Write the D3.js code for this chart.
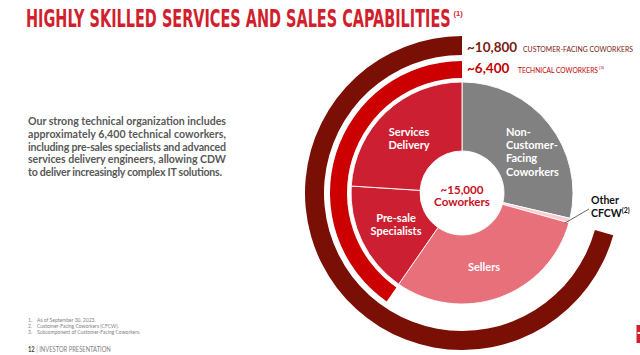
<!DOCTYPE html>
<html><head><meta charset="utf-8">
<script src="https://cdn.jsdelivr.net/npm/d3@7"></script>
<style>
html,body{margin:0;padding:0;background:#fff;}
svg{display:block;}
</style></head>
<body><svg id="c" width="640" height="355"></svg>
<script>
// ---- data ----
const segmentNames = ["Non-Customer-Facing Coworkers","Other CFCW","Sellers","Pre-sale Specialists","Services Delivery"];
const segmentValues = [4300, 100, 4550, 2450, 3600];   // ~15,000 coworkers
const segmentColors = ["#818181","#f6cdd1","#e8707b","#cc1f31","#cc1f31"];
const segmentLabels = [["Non-","Customer-","Facing","Coworkers"],[],["Sellers"],["Pre-sale","Specialists"],["Services","Delivery"]];
const totalLabel = ["~15,000","Coworkers"];
const ringTotals = ["~10,800","~6,400"];
const ringNames = ["CUSTOMER-FACING COWORKERS","TECHNICAL COWORKERS"];
const ringNotes = ["","(3)"];
const ringArcValues = [10600, 6050];  // extent drawn in the picture
const ringColors = ["#7a0f05","#cc0000"];
const paragraph = ["Our strong technical organization includes","approximately 6,400 technical coworkers,","including pre-sales specialists and advanced","services delivery engineers, allowing CDW","to deliver increasingly complex IT solutions."];
const footnotes = ["As of September 30, 2023.","Customer-Facing Coworkers (CFCW).","Subcomponent of Customer-Facing Coworkers."];

const svg = d3.select("#c");
const total = d3.sum(segmentValues);
const cx = 462, cy = 193;
const ang = d3.scaleLinear().domain([0,total]).range([0,2*Math.PI]);

// squeeze/stretch a text horizontally so it spans targetW from (x,y)
function fitText(sel, x, y, targetW){
  const w = sel.node().getComputedTextLength();
  sel.attr("x",0).attr("y",0).attr("transform",`translate(${x},${y}) scale(${targetW/w},1)`);
}

// title
const title = svg.append("text")
  .attr("font-family","'Liberation Sans Narrow','DejaVu Sans Condensed',sans-serif")
  .attr("font-weight","bold").attr("font-size",25).attr("fill","#d11f2e")
  .text("HIGHLY SKILLED SERVICES AND SALES CAPABILITIES");
fitText(title, 26, 27, 425);
svg.append("text").attr("x",453.5).attr("y",16).attr("font-family","'Liberation Sans Narrow',sans-serif")
  .attr("font-weight","bold").attr("font-size",7.5).attr("fill","#d11f2e").text("(1)");

// paragraph
paragraph.forEach((t,i)=>{
  svg.append("text").attr("x",28).attr("y",125+i*12.75)
    .attr("font-family","Lato,'Open Sans',sans-serif").attr("font-weight","bold")
    .attr("font-size",10.6).attr("fill","#595959")
    .attr("textLength", i===4?194:198).attr("lengthAdjust","spacing").text(t);
});

// footnotes
footnotes.forEach((t,i)=>{
  const ft = svg.append("text").attr("y",321.5+i*6.2).attr("font-family","Lato,sans-serif")
    .attr("font-size",5).attr("fill","#7f7f7f");
  ft.append("tspan").attr("x",28).text((i+1)+".");
  ft.append("tspan").attr("x",37).text(t);
});
const foot = svg.append("text").attr("font-family","Lato,sans-serif").attr("font-size",7);
foot.append("tspan").attr("font-weight","bold").attr("fill","#404040").text("12");
foot.append("tspan").attr("fill","#7f7f7f").text(" | INVESTOR PRESENTATION");
fitText(foot, 28, 351.5, 83);

const g = svg.append("g").attr("transform",`translate(${cx},${cy})`);

// rings
const ringRadii = [[138,157],[115,132]];
ringArcValues.forEach((v,i)=>{
  const a = d3.arc().innerRadius(ringRadii[i][0]).outerRadius(ringRadii[i][1])
    .startAngle(ang(total - v)).endAngle(2*Math.PI);
  g.append("path").attr("d",a()).attr("fill",ringColors[i]);
});

// pie
const pie = d3.pie().sort(null).value(d=>d)(segmentValues);
const arc = d3.arc().innerRadius(42).outerRadius(111);
g.selectAll("path.seg").data(pie).enter().append("path").attr("class","seg")
  .attr("d",arc).attr("fill",(d,i)=>segmentColors[i]).attr("stroke","#fff").attr("stroke-width",0.9);

// segment labels
const labelPos = [{x:506,y:136,anchor:"start"},null,{x:484,y:271,anchor:"middle"},{x:396,y:222,anchor:"middle"},{x:409,y:136,anchor:"middle"}];
segmentLabels.forEach((lines,i)=>{
  const p = labelPos[i]; if(!p) return;
  const t = svg.append("text").attr("x",p.x).attr("y",p.y).attr("text-anchor",p.anchor)
    .attr("font-family","Lato,'Open Sans',sans-serif").attr("font-weight","bold")
    .attr("font-size",11).attr("fill","#fff");
  lines.forEach((s,j)=>{
    t.append("tspan").attr("x",p.x).attr("dy",j===0?0:13.2).text(s);
  });
});

// center label
totalLabel.forEach((s,j)=>{
  svg.append("text").attr("x",cx).attr("y",193.8+j*12.3).attr("text-anchor","middle")
    .attr("font-family","Lato,sans-serif").attr("font-weight","bold").attr("font-size",11.6)
    .attr("fill","#c8101f").text(s);
});

// Other CFCW callout
svg.append("line").attr("x1",565).attr("y1",223).attr("x2",589).attr("y2",209)
  .attr("stroke","#404040").attr("stroke-width",0.8);
const oc = svg.append("text").attr("x",591).attr("y",203.5).attr("font-family","Lato,sans-serif")
  .attr("font-weight","bold").attr("font-size",10.5).attr("fill","#111");
oc.append("tspan").attr("x",591).text("Other");
oc.append("tspan").attr("x",591).attr("dy",13.5).text("CFCW");
oc.append("tspan").attr("font-size",7).attr("dy",-4).text("(2)");

// ring labels
const ringLabelY = [51.5,73];
const ringTextColor = ["#7a1a10","#c00000"];
const ringNameX = [523,518];
const ringNameW = [110,80];
ringTotals.forEach((t,i)=>{
  svg.append("text").attr("x",467).attr("y",ringLabelY[i]).attr("font-family","Lato,sans-serif")
    .attr("font-weight","bold").attr("font-size",13.5).attr("fill",ringTextColor[i]).text(t);
  const nt = svg.append("text").attr("font-family","Lato,sans-serif")
    .attr("font-size",7.4).attr("fill",ringTextColor[i]).text(ringNames[i]);
  fitText(nt, ringNameX[i], ringLabelY[i], ringNameW[i]);
  if(ringNotes[i]) svg.append("text").attr("x",ringNameX[i]+ringNameW[i]+1).attr("y",ringLabelY[i]-4.5)
    .attr("font-family","Lato,sans-serif").attr("font-size",4.5).attr("fill",ringTextColor[i]).text(ringNotes[i]);
});

// logo fragment at the right edge
svg.append("rect").attr("x",636.5).attr("y",325).attr("width",3.5).attr("height",18).attr("fill","#d11f2e");
svg.append("rect").attr("x",637.5).attr("y",332).attr("width",2.5).attr("height",2).attr("fill","#fff");
</script></body></html>
